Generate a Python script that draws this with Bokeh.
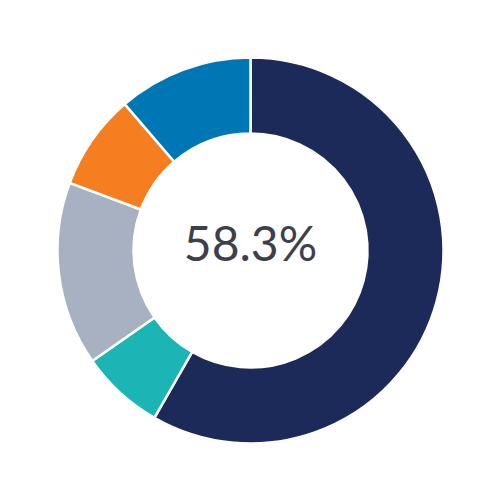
import numpy as np
from bokeh.plotting import figure
from bokeh.models import Range1d
from bokeh.core.properties import value
from bokeh.embed import file_html
from bokeh.resources import INLINE

# slices, clockwise from 12 o'clock
labels = ["Navy", "Teal", "Gray", "Orange", "Blue"]
shares = [58.3, 7.0, 15.4, 8.0, 11.3]
colors = ["#1c2a5a", "#1cb5b6", "#a8b1c1", "#f47e20", "#0077b5"]
center_label = "58.3%"

total = float(sum(shares))
fracs = np.array(shares) / total
ends = np.cumsum(fracs)
starts = ends - fracs
# clockwise from the top
start_angle = np.pi / 2 - 2 * np.pi * starts
end_angle = np.pi / 2 - 2 * np.pi * ends

p = figure(width=500, height=500, output_backend="svg", toolbar_location=None,
           x_range=Range1d(-250, 250), y_range=Range1d(-250, 250),
           min_border=0)
p.axis.visible = False
p.grid.visible = False
p.outline_line_color = None
p.background_fill_color = "white"
p.border_fill_color = "white"

p.annular_wedge(x=0, y=0, inner_radius=117, outer_radius=193,
                start_angle=start_angle, end_angle=end_angle, direction="clock",
                fill_color=colors, line_color="white", line_width=2.5)

p.text(x=[0], y=[8], text=[center_label], text_align="center",
       text_baseline="middle", text_font=value("Lato"),
       text_font_size="48px", text_color="#3b404b")

open("out.html", "w").write(file_html(p, INLINE))
